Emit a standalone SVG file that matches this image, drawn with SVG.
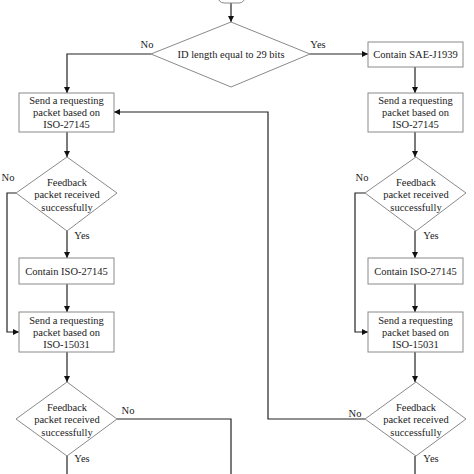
<svg xmlns="http://www.w3.org/2000/svg" width="474" height="474" viewBox="0 0 474 474">
<style>
.n{fill:#fff;stroke:#8a8a8a;stroke-width:1}
.c{fill:none;stroke:#222;stroke-width:1.2}
text{font-family:"Liberation Serif","Times New Roman",serif;font-size:10.5px;fill:#222;text-anchor:middle}
</style>
<defs>
<marker id="a" viewBox="0 0 10 10" refX="10" refY="5" markerWidth="6" markerHeight="6" markerUnits="userSpaceOnUse" orient="auto">
<path d="M0,0 L10,5 L0,10 z" fill="#111"/>
</marker>
</defs>
<rect width="474" height="474" fill="#fff"/>
<g id="connectors" class="c">
<path d="M231,3 V22" marker-end="url(#a)"/>
<path d="M151,54 H67 V93" marker-end="url(#a)"/>
<path d="M310,54 H368" marker-end="url(#a)"/>
<path d="M415,67 V93" marker-end="url(#a)"/>
<path d="M67,132 V157" marker-end="url(#a)"/>
<path d="M415,132 V157" marker-end="url(#a)"/>
<path d="M16,193 H7 V332 H19" marker-end="url(#a)"/>
<path d="M67,231 V258" marker-end="url(#a)"/>
<path d="M67,284 V312" marker-end="url(#a)"/>
<path d="M67,352 V382" marker-end="url(#a)"/>
<path d="M117,419 H231 V474"/>
<path d="M67,456 V474"/>
<path d="M365,193 H355 V332 H368" marker-end="url(#a)"/>
<path d="M415,231 V258" marker-end="url(#a)"/>
<path d="M415,284 V312" marker-end="url(#a)"/>
<path d="M415,352 V382" marker-end="url(#a)"/>
<path d="M365,419 H268 V112 H114" marker-end="url(#a)"/>
<path d="M415,456 V474"/>
</g>
<g id="start"><rect class="n" x="218" y="-10" width="27" height="13" rx="6"/></g>
<g id="d0"><polygon class="n" points="231,22 310,54 231,87 151,54"/><text x="231" y="58">ID length equal to 29 bits</text></g>
<g id="r0"><rect class="n" x="368" y="42" width="95" height="25"/><text x="415.5" y="58">Contain SAE-J1939</text></g>
<g id="l1"><rect class="n" x="19" y="93" width="95" height="39"/><text x="66.5" y="104">Send a requesting</text><text x="66.5" y="116">packet based on</text><text x="66.5" y="128">ISO-27145</text></g>
<g id="r1"><rect class="n" x="368" y="93" width="95" height="39"/><text x="415.5" y="104">Send a requesting</text><text x="415.5" y="116">packet based on</text><text x="415.5" y="128">ISO-27145</text></g>
<g id="ld1"><polygon class="n" points="67,157 117,193 67,231 16,193"/><text x="67" y="186">Feedback</text><text x="67" y="198">packet received</text><text x="67" y="211">successfully</text></g>
<g id="rd1"><polygon class="n" points="416,157 466,193 416,231 365,193"/><text x="416" y="186">Feedback</text><text x="416" y="198">packet received</text><text x="416" y="211">successfully</text></g>
<g id="l2"><rect class="n" x="19" y="258" width="95" height="26"/><text x="66.5" y="275">Contain  ISO-27145</text></g>
<g id="r2"><rect class="n" x="368" y="258" width="95" height="26"/><text x="415.5" y="275">Contain  ISO-27145</text></g>
<g id="l3"><rect class="n" x="19" y="312" width="95" height="40"/><text x="66.5" y="324">Send a requesting</text><text x="66.5" y="336">packet based on</text><text x="66.5" y="348">ISO-15031</text></g>
<g id="r3"><rect class="n" x="368" y="312" width="95" height="40"/><text x="415.5" y="324">Send a requesting</text><text x="415.5" y="336">packet based on</text><text x="415.5" y="348">ISO-15031</text></g>
<g id="ld2"><polygon class="n" points="67,382 117,419 67,456 16,419"/><text x="67" y="411">Feedback</text><text x="67" y="423">packet received</text><text x="67" y="436">successfully</text></g>
<g id="rd2"><polygon class="n" points="416,382 466,419 416,456 365,419"/><text x="416" y="411">Feedback</text><text x="416" y="423">packet received</text><text x="416" y="436">successfully</text></g>
<g id="labels">
<text x="147" y="48">No</text><text x="318" y="48">Yes</text>
<text x="8" y="181">No</text><text x="82" y="239">Yes</text>
<text x="362" y="181">No</text><text x="431" y="239">Yes</text>
<text x="128" y="414">No</text><text x="82" y="462">Yes</text>
<text x="355" y="417">No</text><text x="431" y="462">Yes</text>
</g>
</svg>
